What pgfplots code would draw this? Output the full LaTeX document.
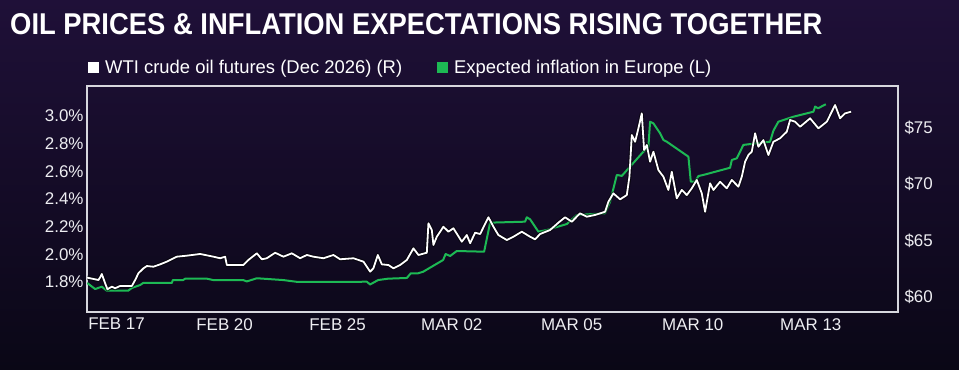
\documentclass[border=0pt]{standalone}
\usepackage{fontspec}
\setmainfont{Liberation Sans}
\usepackage{pgfplots}
\usepackage{pgfplotstable}
\pgfplotsset{compat=1.18}
\definecolor{bgtop}{RGB}{31,16,56}
\definecolor{bgbot}{RGB}{10,7,22}
\definecolor{infl}{RGB}{29,185,84}
\definecolor{framec}{RGB}{215,215,222}
\definecolor{lbl}{RGB}{238,238,242}

\pgfplotstableread{
x y
-0.026 1.793
0.182 1.749
0.356 1.766
0.486 1.737
1.041 1.737
1.137 1.757
1.353 1.778
1.431 1.793
2.177 1.793
2.203 1.814
2.471 1.814
2.523 1.824
3.088 1.824
3.252 1.814
4.032 1.814
4.128 1.804
4.389 1.827
5.073 1.814
5.463 1.800
6.374 1.800
7.25 1.802
7.336 1.782
7.544 1.814
7.804 1.824
8.291 1.829
8.395 1.863
8.585 1.863
8.715 1.874
9.235 1.959
9.3 2.002
9.417 1.988
9.591 2.024
10.302 2.019
10.458 2.229
11.368 2.236
11.412 2.268
11.498 2.253
11.714 2.164
11.933 2.176
12.453 2.219
12.713 2.284
13.059 2.290
13.449 2.297
13.580 2.381
13.754 2.574
13.884 2.567
14.446 2.742
14.576 2.778
14.620 2.959
14.706 2.947
14.880 2.875
14.966 2.827
15.055 2.814
15.617 2.706
15.679 2.525
15.791 2.525
15.877 2.566
16.007 2.574
16.701 2.626
16.746 2.682
16.876 2.694
17.047 2.791
17.396 2.803
17.742 2.814
17.828 2.894
17.958 2.959
18.349 2.995
18.869 3.031
18.913 3.068
18.991 3.056
19.191 3.085
}\infl

\pgfplotstableread{
x y
-0.026 61.69
0.268 61.48
0.312 61.72
0.356 62.01
0.442 61.19
0.502 60.66
0.617 60.89
0.702 60.75
0.832 60.95
1.137 60.95
1.223 61.48
1.309 62.08
1.439 62.52
1.527 62.72
1.699 62.66
1.873 62.87
2.047 63.11
2.307 63.55
2.568 63.64
2.914 63.79
3.260 63.55
3.434 63.41
3.564 63.55
3.608 62.81
3.780 62.81
4.040 62.81
4.170 63.26
4.389 63.85
4.519 63.32
4.649 63.41
4.865 63.90
5.081 63.55
5.299 63.85
5.515 63.41
5.689 63.70
5.861 63.55
6.121 63.41
6.381 63.70
6.556 63.32
6.902 63.41
7.162 63.11
7.336 62.22
7.422 62.52
7.536 63.70
7.640 62.87
7.812 62.81
7.942 62.52
8.117 62.81
8.291 63.26
8.463 64.29
8.593 63.70
8.811 63.90
8.853 66.51
8.941 65.92
8.983 64.59
9.071 65.32
9.243 66.21
9.373 65.77
9.503 66.07
9.722 64.88
9.852 65.47
9.938 64.74
10.068 65.68
10.198 65.56
10.414 67.05
10.544 66.21
10.674 65.47
10.892 65.03
11.064 65.32
11.282 65.77
11.498 65.32
11.628 65.09
11.758 65.56
12.019 65.92
12.235 66.57
12.409 67.05
12.583 66.65
12.799 67.40
12.973 67.10
13.189 67.25
13.449 67.54
13.535 68.43
13.665 69.17
13.840 68.64
14.014 69.02
14.082 70.65
14.144 74.35
14.230 73.75
14.316 74.94
14.404 76.27
14.464 73.02
14.534 73.46
14.620 71.98
14.706 72.87
14.836 71.24
14.966 70.65
15.096 69.47
15.184 71.09
15.314 68.73
15.445 69.47
15.575 69.02
15.705 69.62
15.835 70.36
15.965 69.17
16.051 67.54
16.181 70.06
16.267 69.47
16.441 70.20
16.615 69.62
16.746 70.36
16.917 69.76
17.006 70.65
17.092 71.98
17.178 72.57
17.266 72.87
17.352 74.50
17.438 73.31
17.568 73.90
17.698 72.57
17.828 73.75
18.002 74.06
18.176 74.64
18.262 75.68
18.392 75.53
18.522 75.08
18.783 75.83
18.999 74.94
19.217 75.53
19.433 77.01
19.563 75.83
19.693 76.27
19.849 76.42
}\wti

\pgfplotsset{
  common/.style={
    scale only axis, width=811bp, height=226bp,
    at={(87bp,58bp)}, anchor=south west,
    xmin=-0.03, xmax=21.07,
    /pgf/number format/assume math mode=true,
    tick label style={font=\fontsize{17}{17}\selectfont, text=lbl},
    major tick length=0pt,
  }
}

\begin{document}
\begin{tikzpicture}
\shade[top color=bgtop, bottom color=bgbot] (0,0) rectangle (959bp,370bp);
\useasboundingbox (0,0) rectangle (959bp,370bp);
\node[anchor=base west, inner sep=0pt, text=white] at (10bp,335bp)
  {\resizebox{812bp}{21bp}{\bfseries OIL PRICES \& INFLATION EXPECTATIONS RISING TOGETHER}};

\begin{axis}[common,
  ymin=1.583, ymax=3.217,
  ytick={1.8,2,2.2,2.4,2.6,2.8,3},
  yticklabel={\pgfmathprintnumber[fixed,fixed zerofill,precision=1]{\tick}\%},
  ytick pos=left, xtick pos=bottom,
  xtick={0,2.81,5.75,8.66,11.78,14.93,18},
  xticklabels={FEB 17, FEB 20, FEB 25, MAR 02, MAR 05, MAR 10, MAR 13},
  xticklabel style={anchor=north west, inner sep=0pt, yshift=-6bp},
  axis line style={draw=framec, line width=1.8bp},
  legend style={at={(axis description cs:0,1)}, anchor=south west,
    xshift=1bp, yshift=9bp, draw=none, fill=none, inner sep=0pt,
    font=\fontsize{18.5}{18.5}\selectfont, text=white,
    /tikz/every even column/.append style={column sep=33bp}},
  legend columns=2, legend cell align=left,
  legend image code/.code={\fill[#1, draw=none] (0bp,-5.5bp) rectangle (11bp,5.5bp);
    \path[draw=none, fill=none] (0bp,-0.1bp) rectangle (15bp,0.1bp);},
]
\addlegendimage{color=white}
\addlegendentry{WTI crude oil futures (Dec 2026) (R)}
\addplot[color=infl, line width=2bp, line join=round] table {\infl};
\addlegendentry{Expected inflation in Europe (L)}
\end{axis}

\begin{axis}[common,
  ymin=58.64, ymax=78.7,
  axis x line=none, axis y line*=right,
  y axis line style={draw=none},
  ytick={60,65,70,75},
  yticklabel={\$\pgfmathprintnumber{\tick}},
  yticklabel style={xshift=3bp},
]
\addplot[black, opacity=0.55, line width=4bp, line join=round] table {\wti};
\addplot[white, line width=1.8bp, line join=round] table {\wti};
\end{axis}
\end{tikzpicture}
\end{document}
